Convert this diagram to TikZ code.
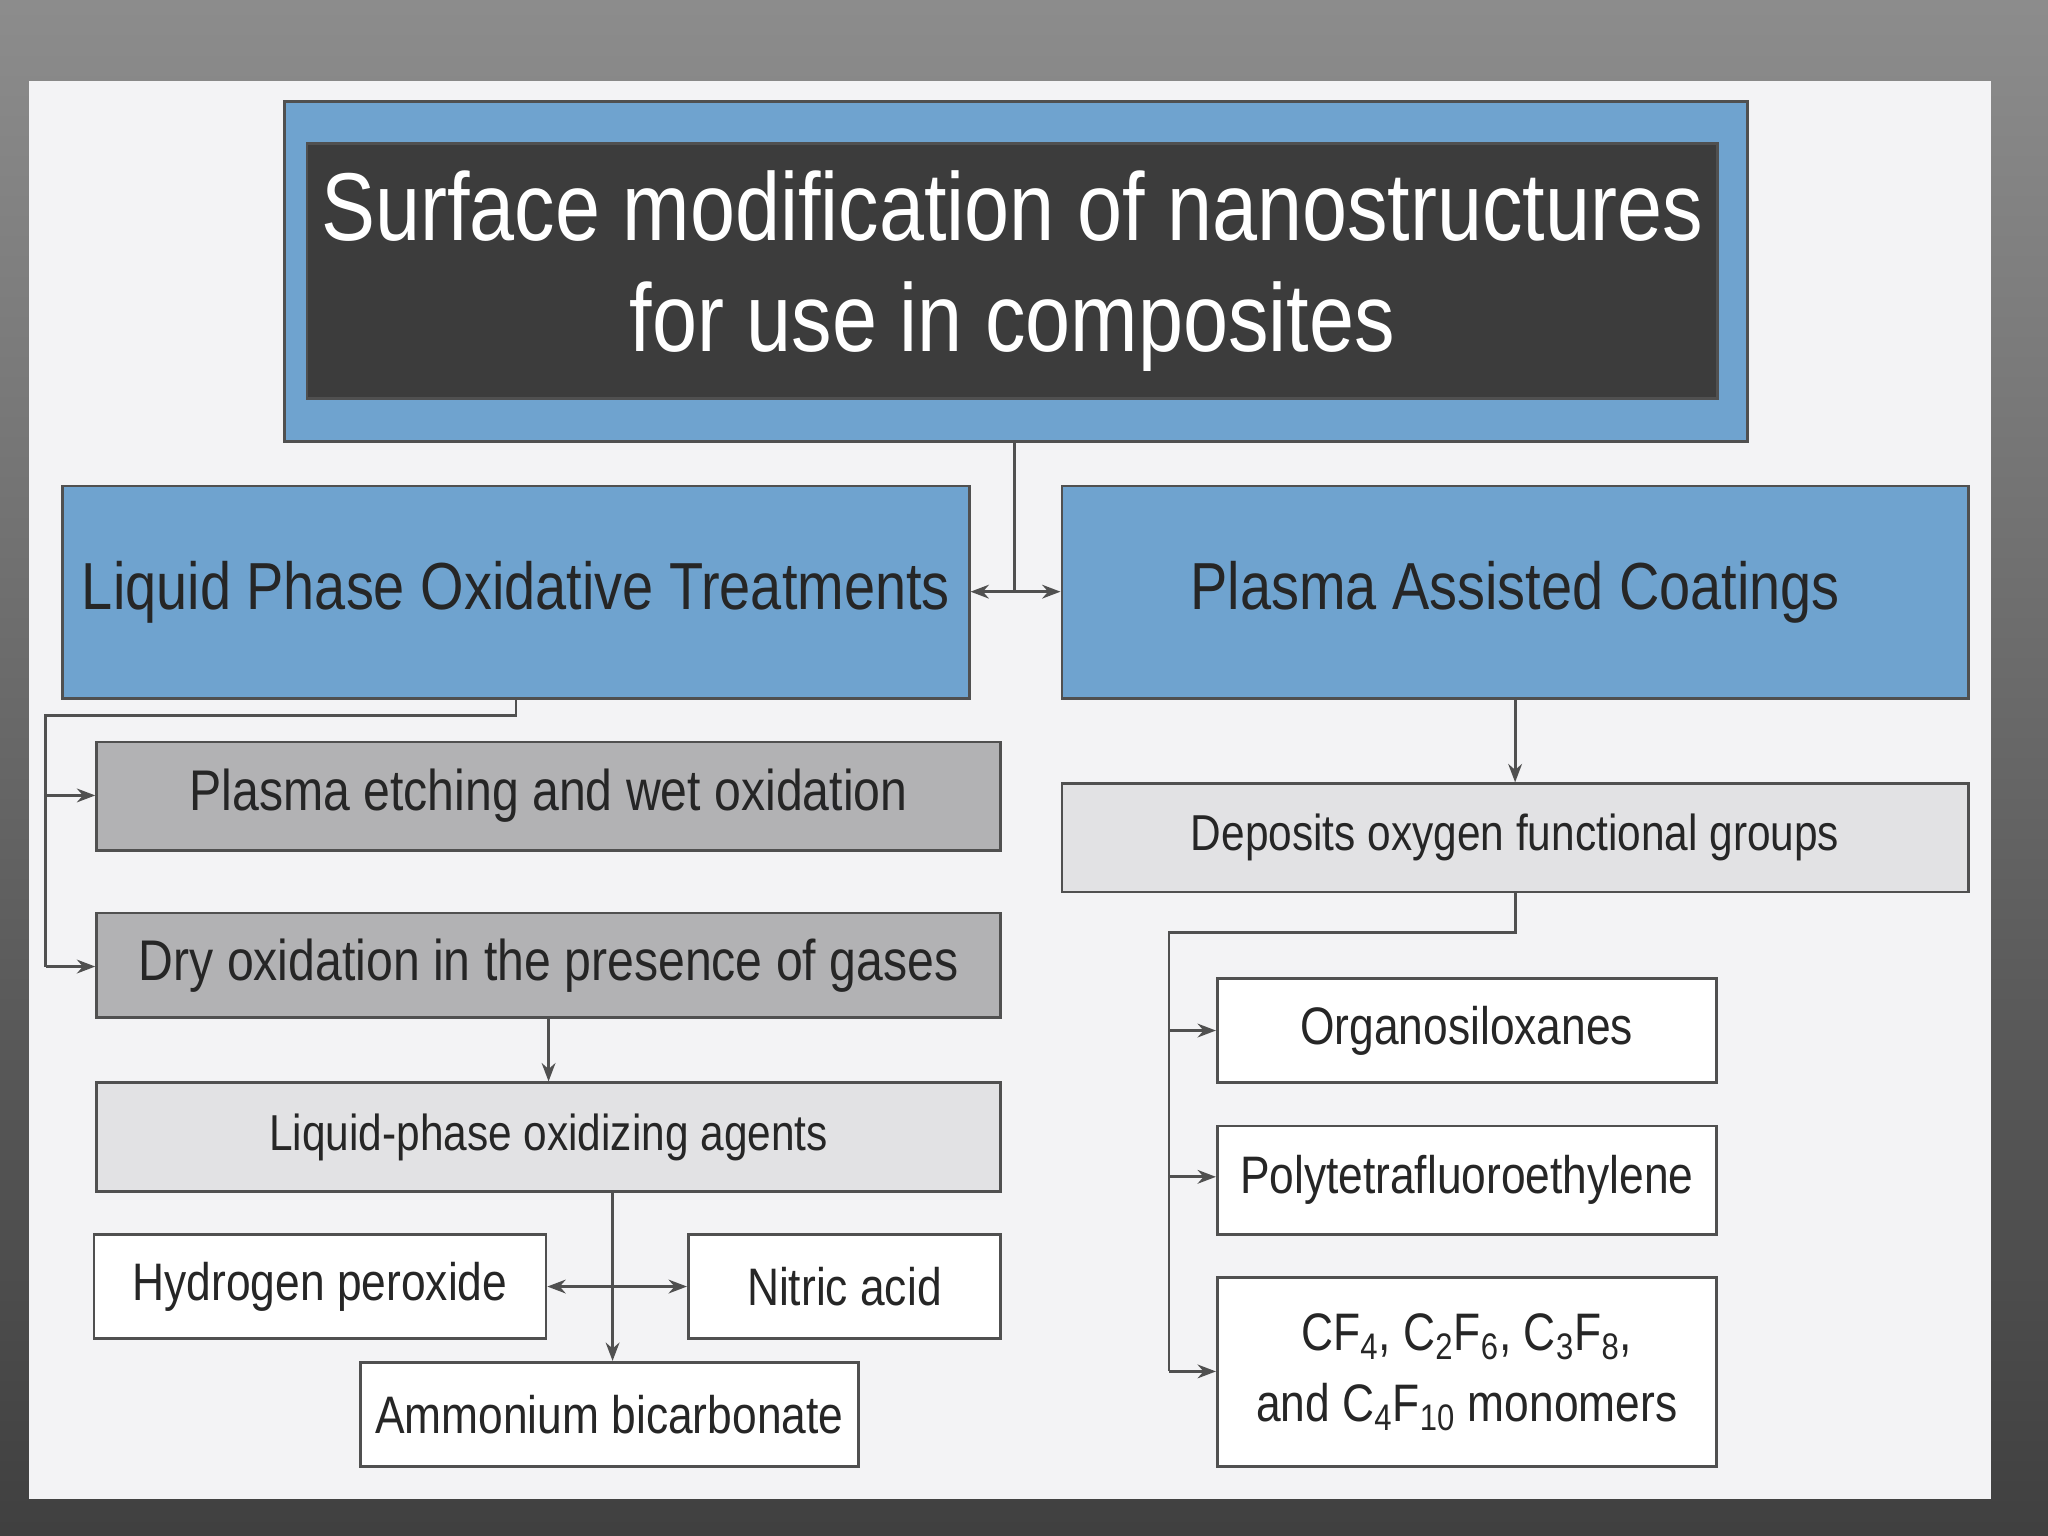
\documentclass[tikz,border=0pt]{standalone}
\usepackage{fontspec}
\setmainfont[FakeStretch=0.84]{Liberation Sans}
\usetikzlibrary{fit,arrows.meta}
\definecolor{bl}{HTML}{6FA3CF}
\definecolor{dk}{HTML}{3C3C3C}
\definecolor{gm}{HTML}{B2B2B4}
\definecolor{gl}{HTML}{E2E2E4}
\definecolor{pn}{HTML}{F3F3F5}
\definecolor{ln}{HTML}{505050}
\tikzset{
 bx/.style={draw=ln, line width=1.2pt, inner sep=0pt},
 txt/.style={inner sep=0pt, align=center, text=black!85},
 ftb/.style={txt, font=\fontsize{29}{33}\selectfont},
 ftm/.style={txt, font=\fontsize{25}{30}\selectfont},
 ftl/.style={txt, font=\fontsize{22}{27}\selectfont},
 ftw/.style={txt, font=\fontsize{23}{31}\selectfont},
 con/.style={draw=ln, line width=1.2pt},
 arr/.style={con, -{Stealth[length=8pt,width=6pt]}},
 darr/.style={con, {Stealth[length=8pt,width=6pt]}-{Stealth[length=8pt,width=6pt]}},
}
\begin{document}
\begin{tikzpicture}[x=0.02cm,y=-0.02cm]
\useasboundingbox (0,0) rectangle (1568,1176);
\shade[top color=black!45, bottom color=black!75] (0,0) rectangle (1568,1176);
\fill[pn] (22,62) rectangle (1524,1148);
% boxes
\node[bx, fill=bl, fit={(218,78)(1338,338)}] (tout) {};
\node[bx, fill=dk, fit={(235,110)(1315,305)}] (title) {};
\node[bx, fill=bl, fit={(48,372)(742,535)}] (lp) {};
\node[bx, fill=bl, fit={(813,372)(1507,535)}] (pa) {};
\node[bx, fill=gm, fit={(74,568)(766,651)}] (pe) {};
\node[bx, fill=gm, fit={(74,699)(766,779)}] (dry) {};
\node[bx, fill=gl, fit={(74,829)(766,912)}] (lq) {};
\node[bx, fill=white, fit={(72,945)(418,1025)}] (hp) {};
\node[bx, fill=white, fit={(527,945)(766,1025)}] (na) {};
\node[bx, fill=white, fit={(276,1043)(657,1123)}] (ab) {};
\node[bx, fill=gl, fit={(813,600)(1507,683)}] (dep) {};
\node[bx, fill=white, fit={(932,749)(1314,829)}] (org) {};
\node[bx, fill=white, fit={(932,862)(1314,945)}] (ptfe) {};
\node[bx, fill=white, fit={(932,978)(1314,1123)}] (cf) {};
% texts
\node[txt, text=white, font=\fontsize{42}{48}\selectfont] (titlet) at (title) {Surface modification of nanostructures\\for use in composites};
\node[ftb] (lpt) at (lp) {Liquid Phase Oxidative Treatments};
\node[ftb] (pat) at (pa) {Plasma Assisted Coatings};
\node[ftm] (pet) at (pe) {Plasma etching and wet oxidation};
\node[ftm] (dryt) at (dry) {Dry oxidation in the presence of gases};
\node[ftl] (lqt) at (lq) {Liquid-phase oxidizing agents};
\node[ftw] (hpt) at (hp) {Hydrogen peroxide};
\node[ftw] (nat) at (na) {Nitric acid};
\node[ftw] (abt) at (ab) {Ammonium bicarbonate};
\node[ftl] (dept) at (dep) {Deposits oxygen functional groups};
\node[ftw] (orgt) at (org) {Organosiloxanes};
\node[ftw] (ptfet) at (ptfe) {Polytetrafluoroethylene};
\node[ftw] (cft) at (cf) {CF\textsubscript{4}, C\textsubscript{2}F\textsubscript{6}, C\textsubscript{3}F\textsubscript{8},\\and C\textsubscript{4}F\textsubscript{10} monomers};
% connectors
\coordinate (j1) at (777,453);
\draw[con] (tout.south -| j1) -- (j1);
\draw[darr] (lp.east |- j1) -- (pa.west |- j1);
\coordinate (a1) at (395,548);
\coordinate (a2) at (35,548);
\draw[con] (lp.south -| a1) -- (a1) -- (a2) -- (35,740);
\draw[arr] (35,609) -- (pe.west |- 35,609);
\draw[arr] (35,740) -- (dry.west |- 35,740);
\draw[arr] (dry.south -| 420,0) -- (lq.north -| 420,0);
\draw[arr] (lq.south -| 469,0) -- (ab.north -| 469,0);
\draw[darr] (hp.east |- 0,985) -- (na.west |- 0,985);
\draw[arr] (pa.south -| 1160,0) -- (dep.north -| 1160,0);
\coordinate (b1) at (1160,714);
\coordinate (b2) at (895,714);
\draw[con] (dep.south -| b1) -- (b1) -- (b2) -- (895,1050);
\draw[arr] (895,789) -- (org.west |- 0,789);
\draw[arr] (895,901) -- (ptfe.west |- 0,901);
\draw[arr] (895,1050) -- (cf.west |- 0,1050);
\end{tikzpicture}
\end{document}
